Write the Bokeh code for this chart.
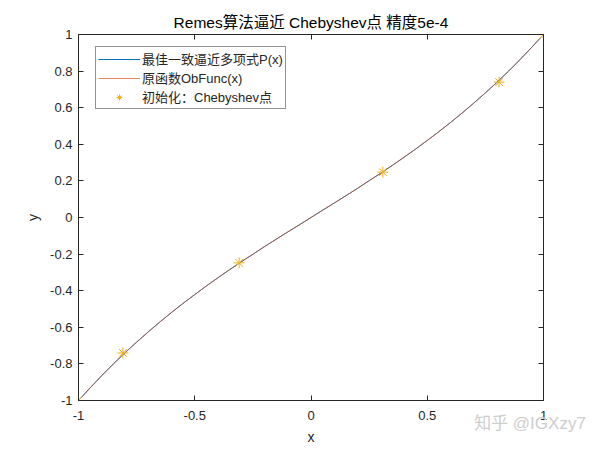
from bokeh.plotting import figure
from bokeh.models import (LinearAxis, FixedTicker, Legend, LegendItem,
                          ColumnDataSource, Range1d, CustomLabelingPolicy)
from bokeh.embed import file_html
from bokeh.resources import INLINE

# ---- data ----
x_vals = [-1.0, -0.95, -0.9, -0.85, -0.8, -0.75, -0.7, -0.65, -0.6, -0.55, -0.5,
          -0.45, -0.4, -0.35, -0.3, -0.25, -0.2, -0.15, -0.1, -0.05, 0.0,
          0.05, 0.1, 0.15, 0.2, 0.25, 0.3, 0.35, 0.4, 0.45, 0.5,
          0.55, 0.6, 0.65, 0.7, 0.75, 0.8, 0.85, 0.9, 0.95, 1.0]
obfunc_vals = [-1.0, -0.931, -0.864, -0.800, -0.739, -0.681, -0.625, -0.571, -0.519, -0.469, -0.421,
               -0.374, -0.329, -0.285, -0.242, -0.201, -0.159, -0.119, -0.079, -0.040, 0.0,
               0.040, 0.079, 0.119, 0.159, 0.201, 0.242, 0.285, 0.329, 0.374, 0.421,
               0.469, 0.519, 0.571, 0.625, 0.681, 0.739, 0.800, 0.864, 0.931, 1.0]
poly_vals = [-1.0, -0.931, -0.864, -0.800, -0.739, -0.681, -0.625, -0.571, -0.519, -0.469, -0.421,
             -0.374, -0.329, -0.285, -0.242, -0.201, -0.159, -0.119, -0.079, -0.040, 0.0,
             0.040, 0.079, 0.119, 0.159, 0.201, 0.242, 0.285, 0.329, 0.374, 0.421,
             0.469, 0.519, 0.571, 0.625, 0.681, 0.739, 0.800, 0.864, 0.931, 1.0]
cheb_x = [-1.0, -0.809, -0.309, 0.309, 0.809, 1.0]
cheb_y = [-1.0, -0.740, -0.248, 0.248, 0.740, 1.0]

x_ticks = [-1, -0.5, 0, 0.5, 1]
x_tick_labels = ["-1", "-0.5", "0", "0.5", "1"]
y_ticks = [-1, -0.8, -0.6, -0.4, -0.2, 0, 0.2, 0.4, 0.6, 0.8, 1]
y_tick_labels = ["-1", "-0.8", "-0.6", "-0.4", "-0.2", "0", "0.2", "0.4", "0.6", "0.8", "1"]

title_text = "Remes算法逼近 Chebyshev点 精度5e-4"
legend_labels = ["最佳一致逼近多项式P(x)", "原函数ObFunc(x)", "初始化：Chebyshev点"]
watermark = "知乎 @IGXzy7"
watermark_at = 0.942   # x position (data units) where the watermark is centred

FONT = "Liberation Sans, Arial, Noto Sans CJK SC"
AX = "#262626"

p = figure(width=600, height=450, output_backend="svg", toolbar_location=None,
           x_range=Range1d(-1, 1), y_range=Range1d(-1, 1),
           min_border_left=78, min_border_right=57, min_border_top=34, min_border_bottom=50,
           x_axis_label="x", y_axis_label="y")
p.grid.visible = False
p.outline_line_color = None
p.background_fill_color = "white"
p.border_fill_color = "white"

p.title.text = title_text
p.title.align = "center"
p.title.text_font = FONT
p.title.text_font_size = "15.5px"
p.title.text_font_style = "normal"
p.title.text_color = "#000000"
p.title.standoff = 0

xt = FixedTicker(ticks=x_ticks, minor_ticks=[])
yt = FixedTicker(ticks=y_ticks, minor_ticks=[])

for ax, ticks, labels in ((p.xaxis[0], xt, x_tick_labels), (p.yaxis[0], yt, y_tick_labels)):
    ax.ticker = ticks
    ax.major_label_overrides = {t: l for t, l in zip(ticks.ticks, labels)}
    ax.major_tick_in = 5
    ax.major_tick_out = 0
    ax.minor_tick_line_color = None
    ax.axis_line_color = AX
    ax.major_tick_line_color = AX
    ax.major_label_text_color = AX
    ax.major_label_text_font = FONT
    ax.major_label_text_font_size = "13px"
    ax.axis_label_text_font = FONT
    ax.axis_label_text_font_size = "14px"
    ax.axis_label_text_font_style = "normal"
    ax.axis_label_text_color = AX

p.xaxis[0].major_label_standoff = 10
p.xaxis[0].axis_label_standoff = 6
p.yaxis[0].major_label_standoff = 6
p.yaxis[0].axis_label_standoff = 6

hide_labels = CustomLabelingPolicy(code="""
for (const i of indices)
    indices.unset(i)
return indices
""")

for loc, ticks in (("right", yt), ("above", xt)):
    a = LinearAxis(ticker=ticks)
    a.major_tick_in = 5
    a.major_tick_out = 0
    a.minor_tick_line_color = None
    a.axis_line_color = AX
    a.major_tick_line_color = AX
    a.major_label_policy = hide_labels
    a.major_label_text_font_size = "1px"
    a.major_label_standoff = 0
    p.add_layout(a, loc)

# watermark drawn as the single label of an invisible axis under the x axis
wm = LinearAxis(ticker=FixedTicker(ticks=[watermark_at], minor_ticks=[]))
wm.major_label_overrides = {watermark_at: watermark}
wm.axis_line_color = None
wm.major_tick_line_color = None
wm.minor_tick_line_color = None
wm.major_tick_in = 0
wm.major_tick_out = 0
wm.major_label_standoff = -34
wm.major_label_text_font = FONT
wm.major_label_text_font_size = "17px"
wm.major_label_text_color = "#cdcdcd"
p.add_layout(wm, "below")

src = ColumnDataSource(dict(x=x_vals, f=obfunc_vals, pv=poly_vals))
r_poly = p.line("x", "pv", source=src, line_color="#0072BD", line_width=1)
r_func = p.line("x", "f", source=src, line_color="#D95319", line_width=1, line_alpha=0.7)
r_cheb = p.scatter(cheb_x, cheb_y, marker="asterisk", size=11,
                   line_color="#EDB120", line_width=1)

legend = Legend(items=[LegendItem(label=legend_labels[0], renderers=[r_poly]),
                       LegendItem(label=legend_labels[1], renderers=[r_func]),
                       LegendItem(label=legend_labels[2], renderers=[r_cheb])],
                location=(17, 291))
legend.label_text_font = FONT
legend.label_text_font_size = "13px"
legend.label_text_color = AX
legend.glyph_width = 42
legend.glyph_height = 14
legend.label_height = 14
legend.spacing = 0
legend.padding = 2
legend.margin = 0
legend.label_standoff = 2
legend.border_line_color = AX
legend.border_line_width = 1
legend.background_fill_color = "white"
legend.background_fill_alpha = 1
p.add_layout(legend, "center")

open("out.html", "w").write(file_html(p, INLINE))
